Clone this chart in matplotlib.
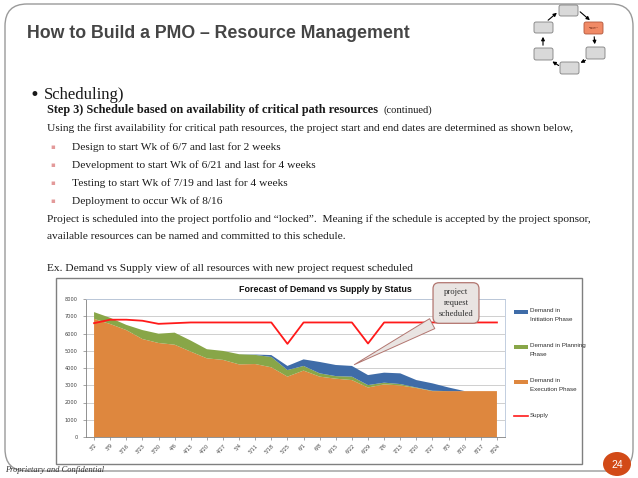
import matplotlib.pyplot as plt
from matplotlib.patches import FancyBboxPatch, Rectangle, Ellipse, FancyArrowPatch
from matplotlib.lines import Line2D

# --- data (weekly buckets) ---
weeks = ["3/2", "3/9", "3/16", "3/23", "3/30", "4/6", "4/13", "4/20", "4/27",
         "5/4", "5/11", "5/18", "5/25", "6/1", "6/8", "6/15", "6/22", "6/29",
         "7/6", "7/13", "7/20", "7/27", "8/3", "8/10", "8/17", "8/24"]
execution = [6850, 6550, 6200, 5680, 5450, 5350, 4950, 4560, 4470, 4210, 4230, 4040, 3500,
             3850, 3500, 3380, 3300, 2870, 3050, 2990, 2840, 2660, 2660, 2660, 2660, 2660]
planning = [390, 360, 300, 520, 540, 700, 640, 530, 520, 590, 530, 600, 380,
            270, 190, 150, 200, 140, 100, 80, 30, 20, 0, 0, 0, 0]
initiation = [0, 0, 0, 0, 0, 0, 0, 0, 0, 0, 20, 110, 240,
              380, 660, 645, 620, 580, 580, 620, 430, 430, 210, 0, 0, 0]
supply = [6600, 6800, 6800, 6740, 6560, 6600, 6640, 6640, 6640, 6640, 6640, 6640, 5400,
          6640, 6640, 6640, 6640, 5420, 6640, 6640, 6640, 6640, 6640, 6640, 6640, 6640]

legend_labels = ["Demand in\nInitiation Phase", "Demand in Planning\nPhase",
                 "Demand in\nExecution Phase", "Supply"]
colors = ["#3F6CA8", "#88A648", "#DE873E", "#FF1A1A"]

W, H = 638, 478
fig = plt.figure(figsize=(6.38, 4.78), dpi=100)


def fx(x):
    return x / W


def fy(y):
    return 1 - y / H


def inch(x, y):
    return (x / 100, (H - y) / 100)


def ptext(x, y, s, **kw):
    return fig.text(fx(x), fy(y), s, **kw)


# slide frame
frame = FancyBboxPatch(inch(5, 471), 6.28, 4.67, boxstyle="round,pad=0,rounding_size=0.22",
                       transform=fig.dpi_scale_trans, fc="none", ec="#9A9A9A", lw=1.0)
fig.add_artist(frame)

# title
ptext(27, 33, "How to Build a PMO \u2013 Resource Management", fontsize=12.8, weight="bold",
      color="#454545", family="Liberation Sans", va="center")

# small process cycle in the corner
boxes = [(559, 5, 19, 11), (584, 22, 19, 12), (586, 47, 19, 12),
         (560, 62, 19, 12), (534, 48, 19, 12), (534, 22, 19, 11)]
for i, (bx, by, bw, bh) in enumerate(boxes):
    fc = "#F08A66" if i == 1 else "#D9D9D9"
    ec = "#B0553A" if i == 1 else "#7F7F7F"
    fig.add_artist(FancyBboxPatch(inch(bx, by + bh), bw / 100, bh / 100,
                                  boxstyle="round,pad=0,rounding_size=0.02",
                                  transform=fig.dpi_scale_trans, fc=fc, ec=ec, lw=0.6))
arrows = [((578, 10), (592, 22)), ((594, 34), (595, 47)), ((588, 59), (578, 64)),
          ((561, 67), (550, 60)), ((543, 48), (543, 34)), ((546, 22), (559, 11))]
for a, b in arrows:
    fig.add_artist(FancyArrowPatch(inch(*a), inch(*b), transform=fig.dpi_scale_trans,
                                   arrowstyle="-|>", mutation_scale=5, lw=0.8, color="black"))
ptext(593.5, 28, "Business\nMgmt", fontsize=1.6, ha="center", va="center", color="#5A1A0A")

# body text
serif = "Liberation Serif"
tc = "#1A1A1A"
fs = 8.2
ptext(30, 95, "\u2022", fontsize=12, color=tc, va="center", family="DejaVu Sans")
ptext(44, 95, "Scheduling)", fontsize=12, color=tc, va="center", family=serif)
ptext(47, 110, "Step 3) Schedule based on availability of critical path resources",
      fontsize=8.8, weight="bold", color=tc, va="center", family=serif)
ptext(384, 110, "(continued)", fontsize=7.6, color=tc, va="center", family=serif)
ptext(47, 128, "Using the first availability for critical path resources, the project start "
      "and end dates are determined as shown below,", fontsize=fs, color=tc, va="center",
      family=serif)
bullets = ["Design to start Wk of 6/7 and last for 2 weeks",
           "Development to start Wk of 6/21 and last for 4 weeks",
           "Testing to start Wk of 7/19 and last for 4 weeks",
           "Deployment to occur Wk of 8/16"]
for k, b in enumerate(bullets):
    yy = 147 + 18 * k
    ptext(50, yy, "\u25aa", fontsize=5, color="#E39A9A", va="center", family="DejaVu Sans")
    ptext(72, yy, b, fontsize=fs, color=tc, va="center", family=serif)
ptext(47, 219, "Project is scheduled into the project portfolio and \u201clocked\u201d.  Meaning if "
      "the schedule is accepted by the project sponsor,", fontsize=fs, color=tc,
      va="center", family=serif)
ptext(47, 236, "available resources can be named and committed to this schedule.",
      fontsize=fs, color=tc, va="center", family=serif)
ptext(47, 268, "Ex. Demand vs Supply view of all resources with new project request scheduled",
      fontsize=fs, color=tc, va="center", family=serif)

# chart box
fig.add_artist(Rectangle(inch(56, 464), 5.26, 1.86, transform=fig.dpi_scale_trans,
                         fc="white", ec="#7F7F7F", lw=1.0, zorder=0.5))

# plot area
ax = fig.add_axes([fx(86), fy(437), fx(505) - fx(86), (437 - 299) / H])
ax.set_zorder(2)
ax.patch.set_alpha(0)
x = list(range(len(weeks)))
ax.stackplot(x, execution, planning, initiation,
             colors=[colors[2], colors[1], colors[0]], lw=0, zorder=2)
ax.plot(x, supply, color=colors[3], lw=1.3, zorder=3)
ax.set_xlim(-0.5, len(weeks) - 0.5)
ax.set_ylim(0, 8000)
ax.set_yticks(range(0, 8001, 1000))
ax.set_yticklabels([str(v) for v in range(0, 8001, 1000)], fontsize=3.6, color="#404040")
ax.set_xticks(x)
ax.set_xticklabels(weeks, fontsize=3.6, rotation=45, ha="right", rotation_mode="anchor",
                   color="#404040")
ax.tick_params(axis="y", length=2, width=0.5, color="#808080", pad=4)
ax.tick_params(axis="x", length=2, width=0.5, color="#808080", pad=2)
ax.grid(axis="y", color="#C8C8C8", lw=0.6, zorder=1)
ax.set_axisbelow(True)
for s in ["top", "right"]:
    ax.spines[s].set_color("#B8C6DA")
    ax.spines[s].set_linewidth(0.6)
ax.spines["left"].set_color("#808080")
ax.spines["bottom"].set_color("#808080")
ax.spines["left"].set_linewidth(0.6)
ax.spines["bottom"].set_linewidth(0.6)

# chart title, centred on the chart box
ptext(325, 289, "Forecast of Demand vs Supply by Status", fontsize=6.4, weight="bold",
      family="Liberation Sans", ha="center", va="center", color="#101010", zorder=3)

# callout
ax.annotate("project\nrequest\nscheduled", xy=(16, initiation[16] + planning[16] + execution[16]),
            xytext=(fx(456), fy(303)), textcoords="figure fraction",
            fontsize=6.2, family=serif, ha="center", va="center", color="#303030",
            linespacing=1.45, zorder=5,
            bbox=dict(boxstyle="round,pad=0.65,rounding_size=0.7", fc="#E9E4E2",
                      ec="#B27670", lw=0.9),
            arrowprops=dict(arrowstyle="wedge,tail_width=1.3,shrink_factor=0.5",
                            fc="#E9E4E2", ec="#B27670", lw=0.7, relpos=(0.22, 0.05)))

# legend drawn at the side
leg_y = [312, 347, 382, 416]
for k in range(4):
    yy = leg_y[k]
    if k < 3:
        fig.add_artist(Rectangle(inch(514, yy + 2), 0.14, 0.04, zorder=3,
                                 transform=fig.dpi_scale_trans, fc=colors[k], ec="none"))
    else:
        fig.add_artist(Line2D([fx(514), fx(528)], [fy(yy), fy(yy)], color=colors[3], lw=1.2,
                              zorder=3))
    ptext(530, yy - 3.5, legend_labels[k], fontsize=4.5, va="top", color="#303030",
          family="Liberation Sans", linespacing=1.8, zorder=3)

# footer
ptext(5, 470, "Proprietary and Confidential", fontsize=6, style="italic", family=serif,
      color="#303030", va="center")
fig.add_artist(Ellipse(inch(617, 464), 0.28, 0.24, transform=fig.dpi_scale_trans,
                       fc="#D24A17", ec="none", zorder=3))
ptext(617, 464.5, "24", fontsize=7.5, color="white", ha="center", va="center",
      family="Liberation Sans", zorder=4)

fig.savefig("out.png", dpi=100)
